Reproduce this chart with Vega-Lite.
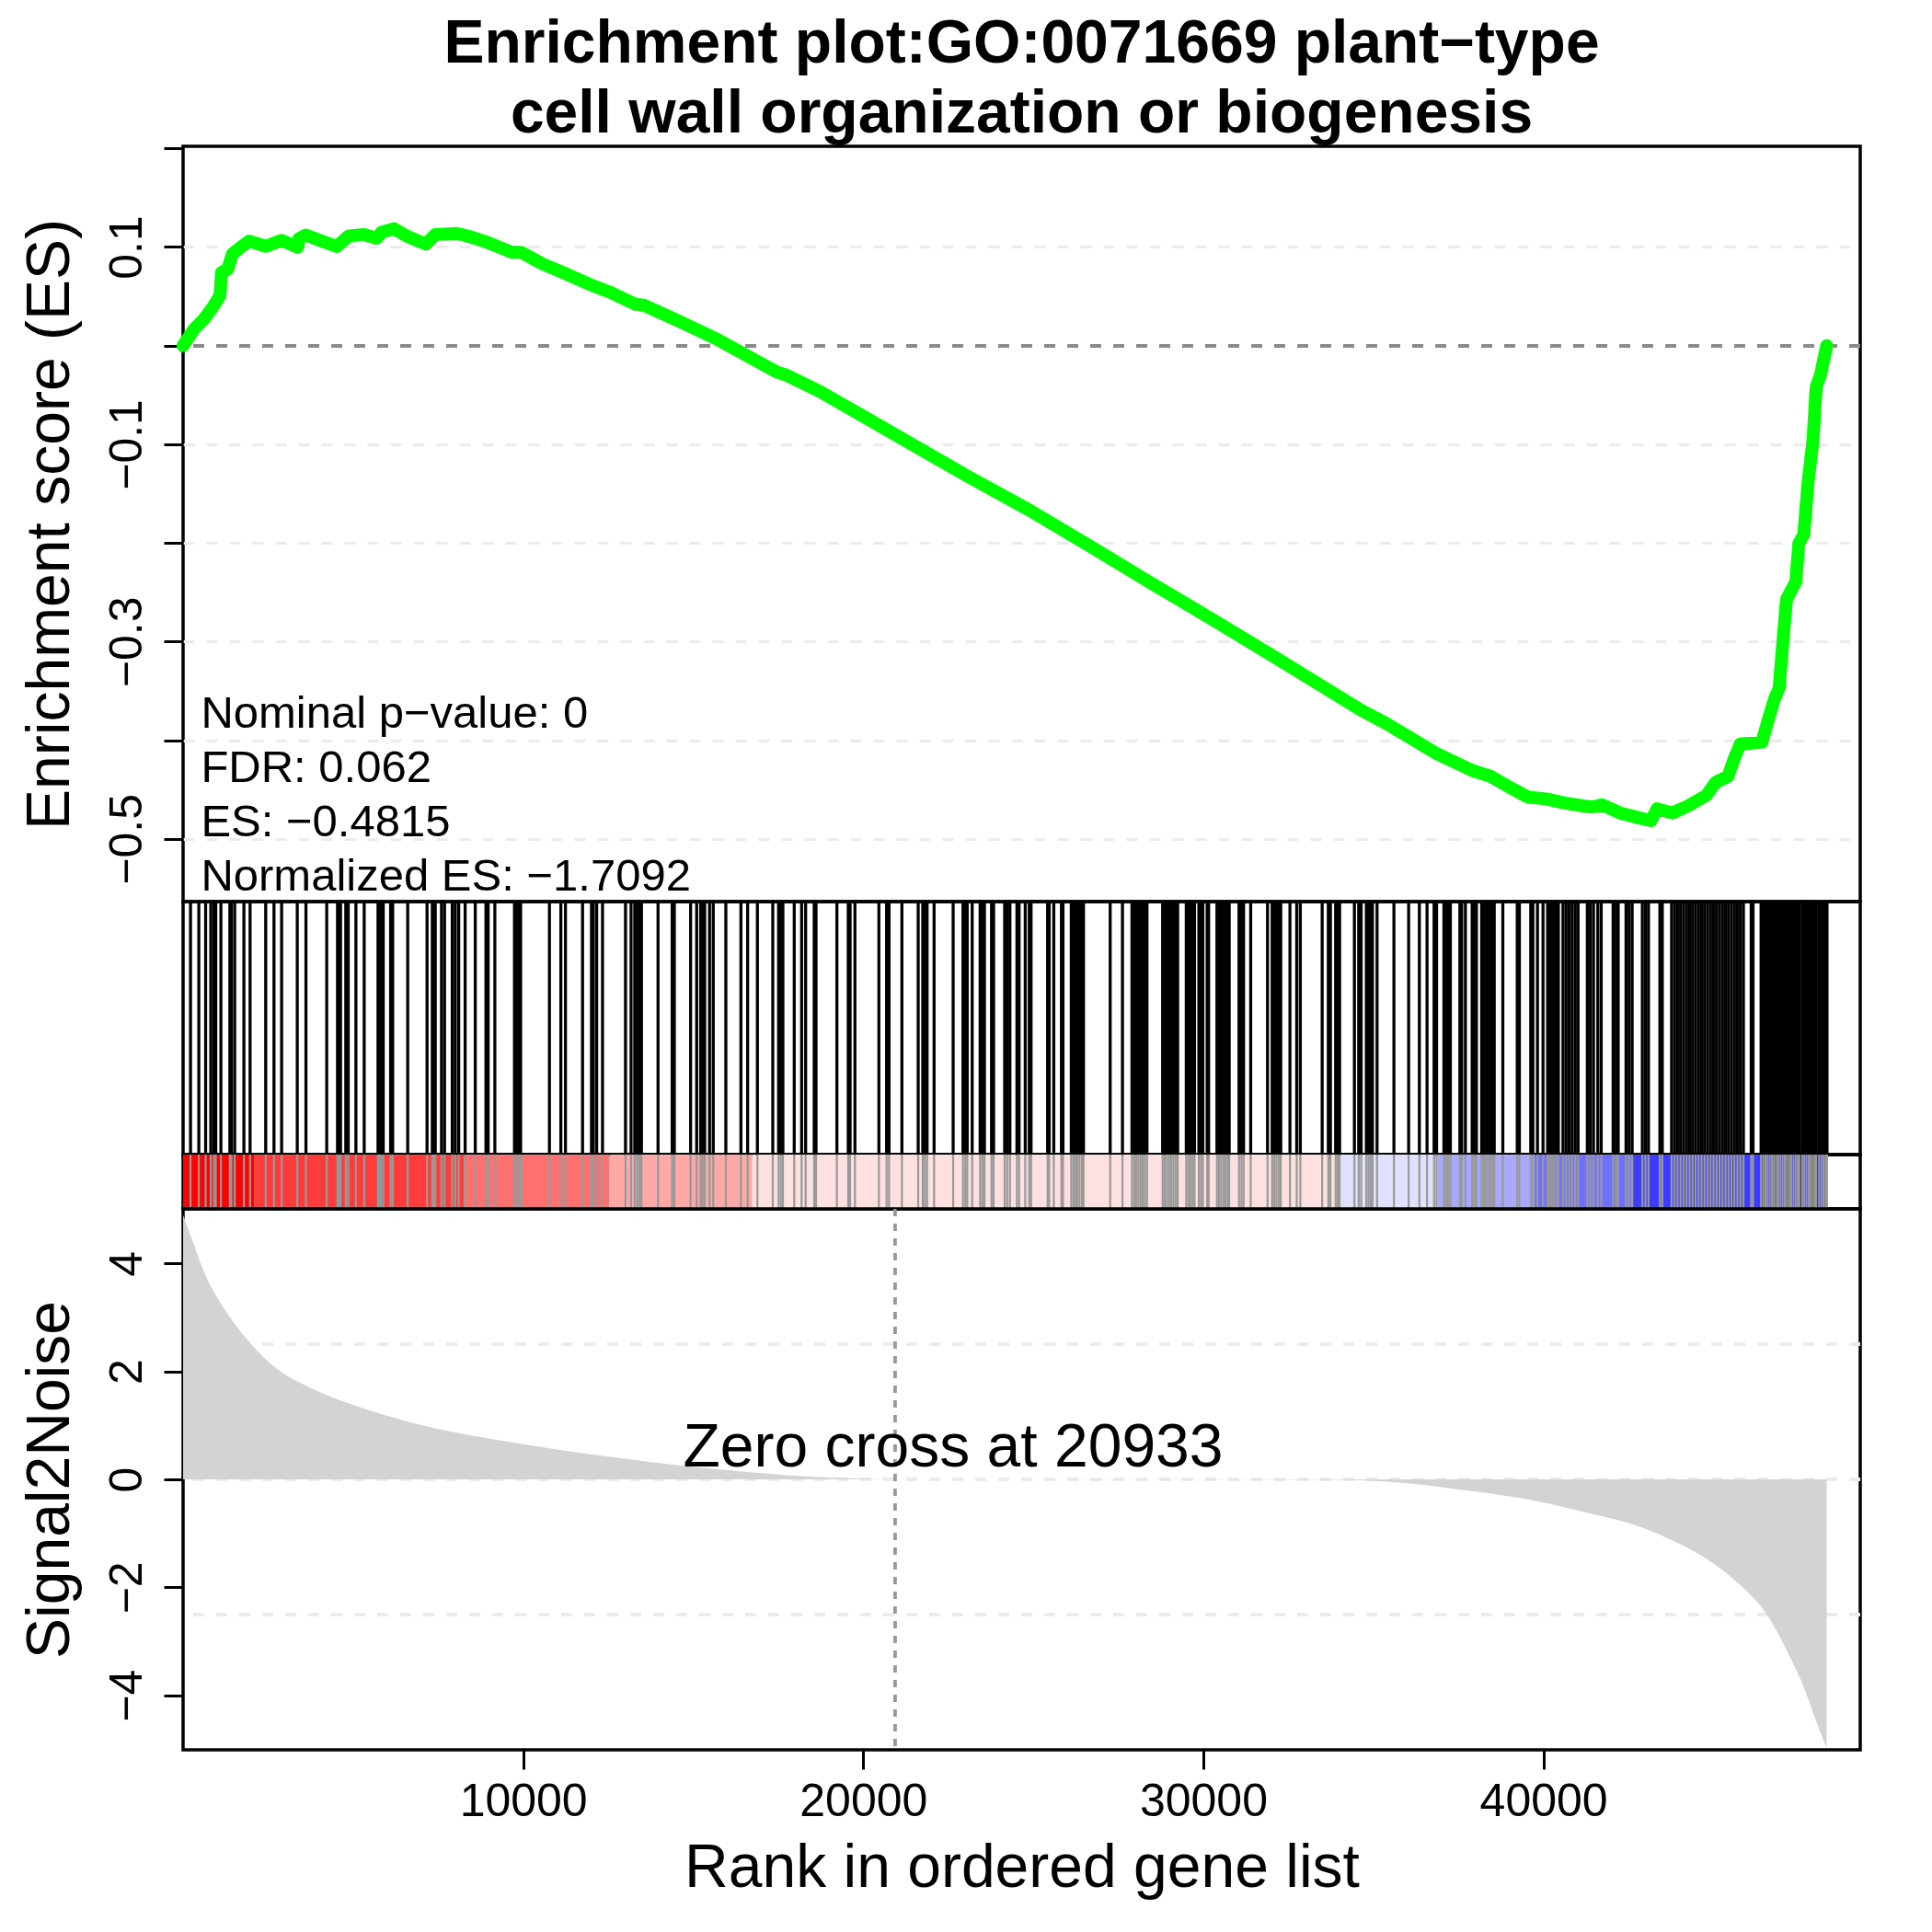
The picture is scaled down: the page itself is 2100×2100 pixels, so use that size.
{
  "$schema": "https://vega.github.io/schema/vega-lite/v6.json",
  "padding": {"left": 19, "top": 12, "right": 0, "bottom": 0},
  "background": "white",
  "spacing": 0,
  "bounds": "flush",
  "config": {
    "font": "Liberation Sans",
    "view": {"stroke": "black", "strokeWidth": 3.5},
    "axis": {
      "domain": false,
      "tickColor": "black",
      "tickWidth": 3,
      "tickSize": 21,
      "labelFont": "Liberation Sans",
      "labelFontSize": 50,
      "labelColor": "black",
      "labelOverlap": false,
      "labelFlush": false,
      "titleFont": "Liberation Sans",
      "titleFontSize": 66,
      "titleFontWeight": "normal",
      "titleColor": "black",
      "grid": false
    }
  },
  "datasets": {
    "es": [
      {"rank": 0, "es": 0}, {"rank": 319, "es": 0.0165}, {"rank": 590, "es": 0.0259}, {"rank": 860, "es": 0.0383},
      {"rank": 1085, "es": 0.0508}, {"rank": 1131, "es": 0.0741}, {"rank": 1312, "es": 0.0773}, {"rank": 1448, "es": 0.0928},
      {"rank": 1672, "es": 0.0991}, {"rank": 1943, "es": 0.1059}, {"rank": 2438, "es": 0.1007}, {"rank": 2890, "es": 0.1068},
      {"rank": 3369, "es": 0.0997}, {"rank": 3404, "es": 0.1084}, {"rank": 3612, "es": 0.1121}, {"rank": 4018, "es": 0.1068},
      {"rank": 4514, "es": 0.1005}, {"rank": 4876, "es": 0.1113}, {"rank": 5328, "es": 0.1125}, {"rank": 5691, "es": 0.1089},
      {"rank": 5835, "es": 0.1149}, {"rank": 6197, "es": 0.1185}, {"rank": 6597, "es": 0.1107}, {"rank": 7139, "es": 0.1029},
      {"rank": 7412, "es": 0.1125}, {"rank": 8045, "es": 0.1137}, {"rank": 8408, "es": 0.1107}, {"rank": 8952, "es": 0.1047},
      {"rank": 9677, "es": 0.0945}, {"rank": 9950, "es": 0.0945}, {"rank": 10583, "es": 0.0826}, {"rank": 11127, "es": 0.0748},
      {"rank": 12034, "es": 0.061}, {"rank": 12578, "es": 0.0538}, {"rank": 13303, "es": 0.0419}, {"rank": 13574, "es": 0.0407},
      {"rank": 14569, "es": 0.0251}, {"rank": 15294, "es": 0.0132}, {"rank": 15657, "es": 0.0072}, {"rank": 17470, "es": -0.0269},
      {"rank": 17740, "es": -0.0299}, {"rank": 18736, "es": -0.0467}, {"rank": 20006, "es": -0.0718}, {"rank": 21818, "es": -0.1077},
      {"rank": 23049, "es": -0.132}, {"rank": 24863, "es": -0.1663}, {"rank": 26673, "es": -0.2034}, {"rank": 28486, "es": -0.2411},
      {"rank": 30299, "es": -0.2782}, {"rank": 32110, "es": -0.3159}, {"rank": 34286, "es": -0.362}, {"rank": 34648, "es": -0.3697},
      {"rank": 35374, "es": -0.3829}, {"rank": 36820, "es": -0.4128}, {"rank": 37908, "es": -0.4307}, {"rank": 38452, "es": -0.4367},
      {"rank": 38996, "es": -0.4475}, {"rank": 39540, "es": -0.4577}, {"rank": 40084, "es": -0.4595}, {"rank": 40628, "es": -0.4637},
      {"rank": 41172, "es": -0.4666}, {"rank": 41443, "es": -0.4678}, {"rank": 41714, "es": -0.4654}, {"rank": 42257, "es": -0.4738},
      {"rank": 42801, "es": -0.4786}, {"rank": 43164, "es": -0.4815}, {"rank": 43345, "es": -0.4696}, {"rank": 43797, "es": -0.4738},
      {"rank": 44251, "es": -0.4666}, {"rank": 44795, "es": -0.4559}, {"rank": 45066, "es": -0.4427}, {"rank": 45429, "es": -0.4367},
      {"rank": 45610, "es": -0.4188}, {"rank": 45791, "es": -0.4038}, {"rank": 46424, "es": -0.402}, {"rank": 46608, "es": -0.3799},
      {"rank": 46787, "es": -0.359}, {"rank": 46933, "es": -0.347}, {"rank": 47060, "es": -0.2931}, {"rank": 47149, "es": -0.2573},
      {"rank": 47423, "es": -0.2393}, {"rank": 47512, "es": -0.2004}, {"rank": 47658, "es": -0.1914}, {"rank": 47785, "es": -0.1376},
      {"rank": 47929, "es": -0.0957}, {"rank": 48021, "es": -0.0419}, {"rank": 48148, "es": -0.0299}, {"rank": 48330, "es": 0}
    ],
    "metric": [
      {"rank": 1, "s2n": 4.9}, {"rank": 254, "s2n": 4.46}, {"rank": 617, "s2n": 3.84}, {"rank": 1161, "s2n": 3.21},
      {"rank": 1886, "s2n": 2.59}, {"rank": 2790, "s2n": 2.03}, {"rank": 3697, "s2n": 1.71}, {"rank": 5509, "s2n": 1.275},
      {"rank": 7322, "s2n": 0.96}, {"rank": 9133, "s2n": 0.74}, {"rank": 10946, "s2n": 0.56}, {"rank": 12759, "s2n": 0.4},
      {"rank": 14569, "s2n": 0.26}, {"rank": 16382, "s2n": 0.15}, {"rank": 18195, "s2n": 0.06}, {"rank": 20006, "s2n": 0.012},
      {"rank": 20933, "s2n": 0}, {"rank": 27000, "s2n": -0.005}, {"rank": 33922, "s2n": -0.01}, {"rank": 35735, "s2n": -0.06},
      {"rank": 37546, "s2n": -0.19}, {"rank": 39359, "s2n": -0.35}, {"rank": 41172, "s2n": -0.6}, {"rank": 42982, "s2n": -0.91},
      {"rank": 43889, "s2n": -1.16}, {"rank": 44795, "s2n": -1.475}, {"rank": 45702, "s2n": -1.91}, {"rank": 46609, "s2n": -2.54},
      {"rank": 47149, "s2n": -3.16}, {"rank": 47694, "s2n": -3.91}, {"rank": 48056, "s2n": -4.54}, {"rank": 48330, "s2n": -4.975}
    ],
    "bar": [
      {"start": 0, "end": 2084, "bin": 1}, {"start": 2084, "end": 8257, "bin": 2}, {"start": 8257, "end": 12542, "bin": 3},
      {"start": 12542, "end": 16737, "bin": 4}, {"start": 16737, "end": 34055, "bin": 5}, {"start": 34055, "end": 36896, "bin": 6},
      {"start": 36896, "end": 39738, "bin": 7}, {"start": 39738, "end": 42637, "bin": 8}, {"start": 42637, "end": 46400, "bin": 9},
      {"start": 46400, "end": 48350, "bin": 10}
    ],
    "hits": [
      {"rank":219},{"rank":463},{"rank":663},{"rank":815},{"rank":907},{"rank":961},{"rank":1112},{"rank":1375},{"rank":1421},{"rank":1518},
      {"rank":1789},{"rank":1970},{"rank":2430},{"rank":2673},{"rank":2898},{"rank":3358},{"rank":3613},{"rank":4224},{"rank":4541},{"rank":4587},
      {"rank":4630},{"rank":4784},{"rank":4857},{"rank":5082},{"rank":5326},{"rank":5732},{"rank":5777},{"rank":5821},{"rank":5886},{"rank":6102},
      {"rank":6164},{"rank":6605},{"rank":7174},{"rank":7328},{"rank":7382},{"rank":7417},{"rank":7599},{"rank":7688},{"rank":7915},{"rank":8004},
      {"rank":8105},{"rank":8294},{"rank":8592},{"rank":8906},{"rank":8970},{"rank":9168},{"rank":9745},{"rank":9809},{"rank":9871},{"rank":9926},
      {"rank":10773},{"rank":11108},{"rank":11244},{"rank":11747},{"rank":12009},{"rank":12063},{"rank":12163},{"rank":12334},{"rank":13010},{"rank":13173},
      {"rank":13281},{"rank":13354},{"rank":13424},{"rank":13479},{"rank":13966},{"rank":14382},{"rank":14445},{"rank":14924},{"rank":15102},{"rank":15221},
      {"rank":15275},{"rank":15338},{"rank":15481},{"rank":15590},{"rank":15960},
      {"rank":16403},{"rank":16601},{"rank":16888},{"rank":17340},{"rank":17511},{"rank":17576},{"rank":17638},{"rank":17971},{"rank":18188},{"rank":18306},
      {"rank":18558},{"rank":18612},{"rank":19226},{"rank":19559},{"rank":19613},{"rank":19756},{"rank":20460},{"rank":20687},{"rank":20758},{"rank":21137},
      {"rank":21616},{"rank":21751},{"rank":21813},{"rank":21878},{"rank":22083},{"rank":22644},{"rank":22933},{"rank":23004},{"rank":23058},{"rank":23204},
      {"rank":23437},{"rank":23502},{"rank":23564},{"rank":23772},{"rank":23834},{"rank":24159},{"rank":24232},
      {"rank":24313},{"rank":24520},{"rank":24583},{"rank":24764},{"rank":24881},{"rank":24935},{"rank":25422},{"rank":25467},{"rank":25603},{"rank":25828},
      {"rank":25873},{"rank":26117},{"rank":26180},{"rank":26234},{"rank":26297},{"rank":26360},{"rank":26432},{"rank":26477},{"rank":27262},{"rank":27623},
      {"rank":27902},{"rank":27966},{"rank":28029},{"rank":28092},{"rank":28155},{"rank":28218},{"rank":28281},{"rank":28344},{"rank":28804},{"rank":28868},
      {"rank":28931},{"rank":28994},{"rank":29057},{"rank":29120},{"rank":29183},{"rank":29246},{"rank":29499},{"rank":29562},{"rank":29625},{"rank":29688},
      {"rank":29742},{"rank":29869},{"rank":29932},{"rank":29986},{"rank":30112},{"rank":30157},{"rank":30401},{"rank":30464},{"rank":30527},{"rank":30590},
      {"rank":30653},{"rank":30716},{"rank":30761},{"rank":31050},{"rank":31122},{"rank":31185},{"rank":31393},{"rank":31889},{"rank":32024},{"rank":32088},
      {"rank":32151},{"rank":32214},{"rank":32277},
      {"rank":32548},{"rank":32747},{"rank":32853},{"rank":33495},{"rank":33676},{"rank":33738},{"rank":33891},{"rank":33955},{"rank":34008},{"rank":34443},
      {"rank":34569},{"rank":34641},{"rank":34794},{"rank":34857},{"rank":34920},{"rank":34973},{"rank":35109},{"rank":35605},{"rank":36038},{"rank":36353},
      {"rank":36579},{"rank":36786},{"rank":36859},{"rank":37075},{"rank":37138},{"rank":37201},{"rank":37264},{"rank":37544},{"rank":37598},{"rank":37707},
      {"rank":37905},{"rank":37968},{"rank":38031},{"rank":38185},{"rank":38248},{"rank":38311},{"rank":38374},{"rank":38437},{"rank":38500},{"rank":38555},
      {"rank":38807},{"rank":39231},{"rank":39294},{"rank":39628},{"rank":39691},{"rank":39826},{"rank":39989},{"rank":40124},{"rank":40187},{"rank":40250},
      {"rank":40314},{"rank":40377},{"rank":40440},
      {"rank":40576},{"rank":40666},{"rank":40756},{"rank":40846},{"rank":40936},{"rank":41020},{"rank":41292},{"rank":41383},{"rank":41474},{"rank":41600},
      {"rank":41700},{"rank":42050},{"rank":42140},{"rank":42200},{"rank":42430},{"rank":42520},{"rank":42610},{"rank":42910},{"rank":43000},{"rank":43090},
      {"rank":43425},{"rank":43497},{"rank":43770},{"rank":43858},{"rank":43946},{"rank":44034},{"rank":44122},{"rank":44210},{"rank":44298},{"rank":44386},
      {"rank":44474},{"rank":44562},{"rank":44650},{"rank":44738},{"rank":44826},{"rank":44914},{"rank":45002},{"rank":45090},{"rank":45178},{"rank":45266},
      {"rank":45354},{"rank":45442},{"rank":45530},{"rank":45618},{"rank":45706},{"rank":45794},{"rank":45882},{"rank":46111},{"rank":46165},{"rank":46401},
      {"rank":46465},{"rank":46528},{"rank":46592},{"rank":46655},{"rank":46719},{"rank":46782},{"rank":46846},{"rank":46909},{"rank":46973},{"rank":47036},
      {"rank":47100},{"rank":47163},{"rank":47227},{"rank":47290},{"rank":47354},{"rank":47417},{"rank":47481},{"rank":47526},{"rank":47608},{"rank":47672},
      {"rank":47735},{"rank":47799},{"rank":47862},{"rank":47926},{"rank":47989},{"rank":48025},{"rank":48107},{"rank":48171},{"rank":48234},{"rank":48297},
      {"rank":48340}
    ]
  },
  "vconcat": [
    {
      "width": 1823,
      "height": 821,
      "title": {
        "text": ["Enrichment plot:GO:0071669 plant−type", "cell wall organization or biogenesis"],
        "font": "Liberation Sans",
        "fontSize": 66,
        "fontWeight": "bold",
        "lineHeight": 76.5,
        "offset": 1,
        "anchor": "middle",
        "frame": "group",
        "color": "black"
      },
      "layer": [
        {
          "data": {"name": "es"},
          "mark": {"type": "line", "color": "#00ff00", "strokeWidth": 14, "opacity": 0},
          "encoding": {
            "x": {"field": "rank", "type": "quantitative", "scale": {"domain": [0, 49317], "nice": false, "zero": false}, "axis": null},
            "y": {
              "field": "es", "type": "quantitative",
              "scale": {"domain": [-0.5636, 0.2021], "nice": false, "zero": false},
              "axis": {
                "title": "Enrichment score (ES)",
                "values": [0.2, 0.1, 0, -0.1, -0.2, -0.3, -0.4, -0.5],
                "labelExpr": "abs(round(datum.value * 10)) % 2 == 1 ? format(datum.value, '.1f') : ''",
                "labelAngle": -90,
                "labelAlign": "center",
                "labelBaseline": "alphabetic",
                "labelPadding": 25,
                "titlePadding": 25,
                "grid": true,
                "gridColor": "#ebebeb",
                "gridDash": [12, 13],
                "gridWidth": 3,
                "gridOpacity": {"condition": {"test": "datum.value > 0.15 || datum.value == 0", "value": 0}, "value": 1}
              }
            }
          }
        },
        {
          "data": {"name": "es"},
          "mark": {"type": "rule", "stroke": "#8a8a8a", "strokeWidth": 3, "strokeDash": [12, 13]},
          "encoding": {"y": {"datum": 0, "type": "quantitative"}}
        },
        {
          "data": {"name": "es"},
          "mark": {"type": "line", "color": "#00ff00", "strokeWidth": 14, "strokeCap": "round", "strokeJoin": "round"},
          "encoding": {
            "x": {"field": "rank", "type": "quantitative"},
            "y": {"field": "es", "type": "quantitative"}
          }
        },
        {
          "data": {"values": [{"k": 1}]},
          "mark": {"type": "text", "align": "left", "baseline": "alphabetic", "font": "Liberation Sans", "fontSize": 49, "lineHeight": 59, "color": "black"},
          "encoding": {
            "x": {"datum": 525, "type": "quantitative"},
            "y": {"datum": -0.3877, "type": "quantitative"},
            "text": {"value": ["Nominal p−value: 0", "FDR: 0.062", "ES: −0.4815", "Normalized ES: −1.7092"]}
          }
        }
      ]
    },
    {
      "width": 1823,
      "height": 275,
      "data": {"name": "hits"},
      "mark": {"type": "rule", "color": "black", "strokeWidth": 3.3},
      "encoding": {
        "x": {"field": "rank", "type": "quantitative", "scale": {"domain": [0, 49317], "nice": false, "zero": false}, "axis": null}
      }
    },
    {
      "width": 1823,
      "height": 59,
      "layer": [
        {
          "data": {"name": "bar"},
          "mark": {"type": "rect"},
          "encoding": {
            "x": {"field": "start", "type": "quantitative", "scale": {"domain": [0, 49317], "nice": false, "zero": false}, "axis": null},
            "x2": {"field": "end"},
            "color": {
              "field": "bin", "type": "ordinal", "legend": null,
              "scale": {"domain": [1, 2, 3, 4, 5, 6, 7, 8, 9, 10],
                        "range": ["#ff0000", "#ff3c3c", "#ff7070", "#ffa8a8", "#ffe0e0", "#e0e0ff", "#a8a8ff", "#7070ff", "#3c3cff", "#0000ff"]}
            }
          }
        },
        {
          "data": {"name": "hits"},
          "mark": {"type": "rule", "color": "#999999", "strokeWidth": 2.2},
          "encoding": {"x": {"field": "rank", "type": "quantitative"}}
        }
      ]
    },
    {
      "width": 1823,
      "height": 588,
      "layer": [
        {
          "data": {"name": "metric"},
          "mark": {"type": "rule", "stroke": "#ebebeb", "strokeWidth": 3, "strokeDash": [12, 13]},
          "encoding": {"y": {"datum": 2.5, "type": "quantitative"}}
        },
        {
          "data": {"name": "metric"},
          "mark": {"type": "rule", "stroke": "#ebebeb", "strokeWidth": 3, "strokeDash": [12, 13]},
          "encoding": {"y": {"datum": -2.5, "type": "quantitative"}}
        },
        {
          "data": {"name": "metric"},
          "mark": {"type": "rule", "stroke": "#ebebeb", "strokeWidth": 3, "strokeDash": [12, 13]},
          "encoding": {"y": {"datum": 0, "type": "quantitative"}}
        },
        {
          "data": {"name": "metric"},
          "mark": {"type": "area", "color": "#d3d3d3", "opacity": 1, "interpolate": "monotone"},
          "encoding": {
            "x": {
              "field": "rank", "type": "quantitative",
              "scale": {"domain": [0, 49317], "nice": false, "zero": false},
              "axis": {
                "title": "Rank in ordered gene list",
                "values": [10000, 20000, 30000, 40000],
                "format": "d",
                "labelBaseline": "alphabetic",
                "labelPadding": 50,
                "titlePadding": 15
              }
            },
            "y": {
              "field": "s2n", "type": "quantitative",
              "scale": {"domain": [-5.01, 5.01], "nice": false, "zero": false},
              "axis": {
                "title": "Signal2Noise",
                "values": [-4, -2, 0, 2, 4],
                "format": "d",
                "labelAngle": -90,
                "labelAlign": "center",
                "labelBaseline": "alphabetic",
                "labelPadding": 25,
                "titlePadding": 25
              }
            },
            "y2": {"datum": 0}
          }
        },
        {
          "data": {"name": "metric"},
          "mark": {"type": "rule", "stroke": "#999999", "strokeWidth": 2.5, "strokeDash": [8, 8]},
          "encoding": {"x": {"datum": 20933, "type": "quantitative"}}
        },
        {
          "data": {"values": [{"k": 1}]},
          "mark": {"type": "text", "align": "center", "baseline": "alphabetic", "font": "Liberation Sans", "fontSize": 66, "color": "black"},
          "encoding": {
            "x": {"datum": 22644, "type": "quantitative"},
            "y": {"datum": 0.237, "type": "quantitative"},
            "text": {"value": "Zero cross at 20933"}
          }
        }
      ]
    }
  ]
}
